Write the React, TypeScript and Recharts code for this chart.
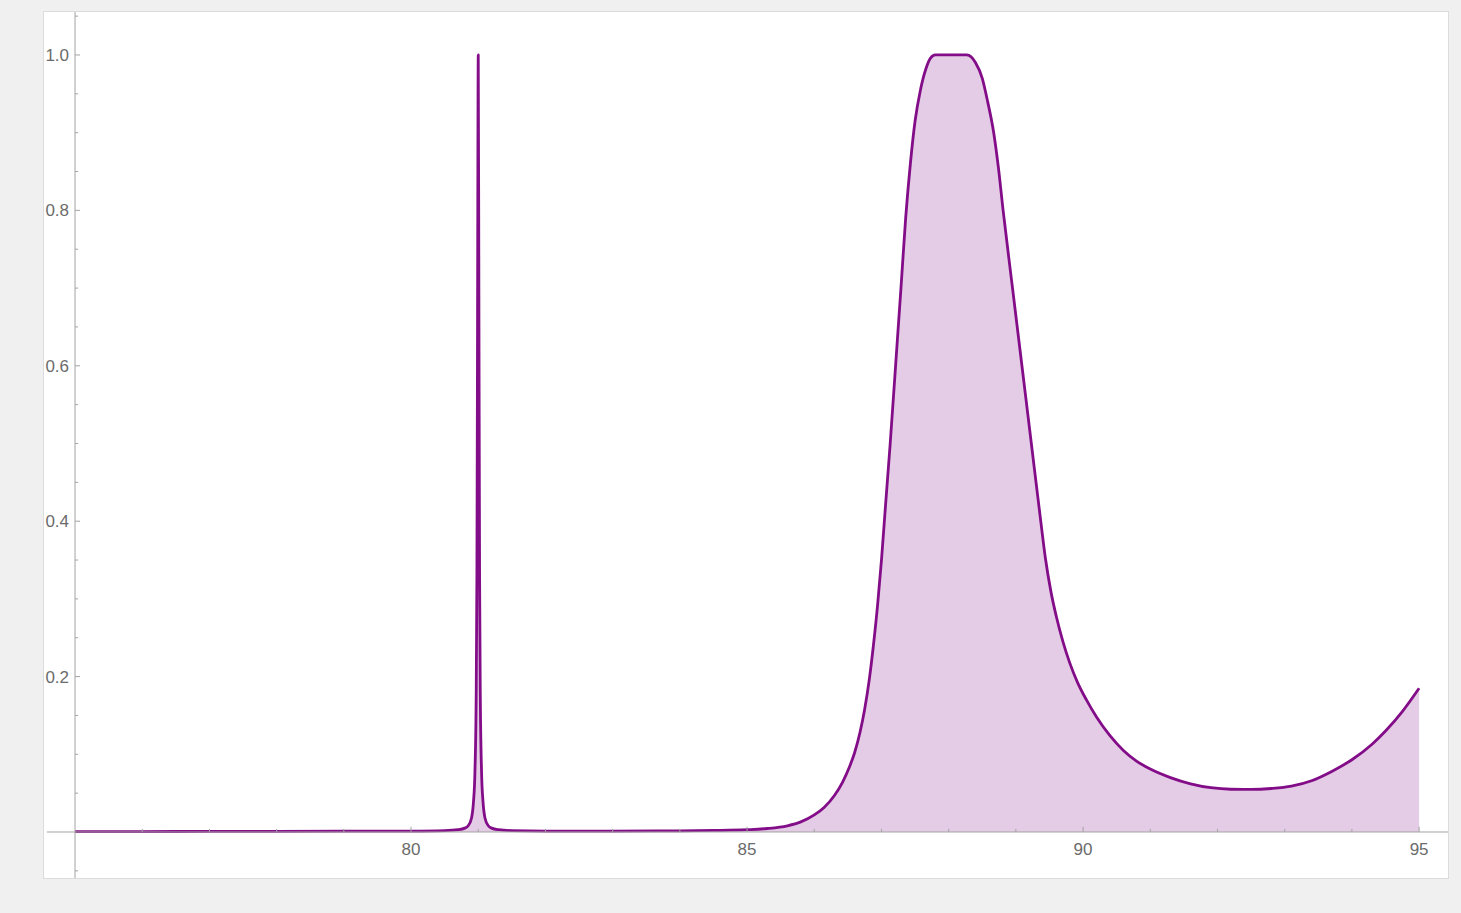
import React from 'react';
import { AreaChart, Area, XAxis, YAxis, ReferenceLine, ReferenceDot } from 'recharts';

const xs = [
  75.0, 76.0, 77.0, 78.0, 79.0, 80.0, 80.5, 80.7, 80.8, 80.85, 80.9, 80.93, 80.95, 80.97, 80.98, 80.99,
  81.0, 81.01, 81.02, 81.03, 81.05, 81.07, 81.1, 81.15, 81.2, 81.3, 81.5, 82.0, 83.0, 84.0, 84.5,
  85.0, 85.3, 85.6, 85.8, 86.0, 86.15, 86.3, 86.42, 86.52, 86.6, 86.68, 86.75, 86.82, 86.88, 86.94,
  87.0, 87.06, 87.13, 87.21, 87.29, 87.36, 87.43, 87.5, 87.58, 87.66, 87.73, 87.8, 88.0, 88.27,
  88.4, 88.5, 88.58, 88.67, 88.74, 88.81, 88.95, 89.09, 89.23, 89.37, 89.44, 89.52, 89.6, 89.7,
  89.8, 89.92, 90.05, 90.2, 90.4, 90.6, 90.8, 91.0, 91.3, 91.6, 91.9, 92.2, 92.5, 92.8, 93.1,
  93.4, 93.7, 94.0, 94.3, 94.5, 94.75, 95.0,
];
const ys = [
  0.0005, 0.0006, 0.0007, 0.0008, 0.001, 0.0012, 0.0018, 0.003, 0.005, 0.008, 0.018, 0.04, 0.075, 0.18, 0.33, 0.67,
  1.0, 0.67, 0.33, 0.18, 0.075, 0.04, 0.018, 0.008, 0.005, 0.003, 0.0018, 0.0012, 0.0012, 0.0015, 0.002,
  0.003, 0.0045, 0.008, 0.013, 0.022, 0.032, 0.047, 0.064, 0.083, 0.102, 0.128, 0.158, 0.197, 0.24, 0.29,
  0.35, 0.42, 0.5, 0.6, 0.7, 0.79, 0.86, 0.915, 0.955, 0.982, 0.996, 1.0, 1.0, 1.0,
  0.99, 0.97, 0.94, 0.9, 0.855, 0.8, 0.7, 0.6, 0.5, 0.4, 0.352, 0.31, 0.278, 0.245,
  0.218, 0.192, 0.17, 0.148, 0.124, 0.105, 0.091, 0.081, 0.07, 0.062, 0.057, 0.055, 0.0548, 0.056, 0.059,
  0.066, 0.078, 0.093, 0.113, 0.13, 0.155, 0.185,
];

const xMajorTicks = [80, 85, 90, 95];
const xMinorTicks = [76, 77, 78, 79, 81, 82, 83, 84, 86, 87, 88, 89, 91, 92, 93, 94];
const yMajorTicks = [0.2, 0.4, 0.6, 0.8, 1.0];
const yMinorTicks = [-0.05, 0.05, 0.1, 0.15, 0.25, 0.3, 0.35, 0.45, 0.5, 0.55, 0.65, 0.7, 0.75, 0.85, 0.9, 0.95, 1.05];

const X_DOMAIN: [number, number] = [74.583, 95.43];
const Y_DOMAIN: [number, number] = [-0.0592, 1.0553];
const ORIGIN_X = 75;

const data = xs.map((x, i) => ({ x, y: ys[i] }));

const AXIS = '#a3a3a3';
const LABEL = '#6b6b6b';
const FONT = '"Liberation Sans", Arial, sans-serif';

const App = () => {
  return (
    <div style={{ position: 'absolute', left: 0, top: 0, width: 1461, height: 913, background: '#f0f0f0', overflow: 'hidden' }}>
      <div
        style={{
          position: 'absolute',
          left: 43,
          top: 11,
          width: 1404,
          height: 866,
          background: '#fff',
          border: '1px solid #dcdcdc',
        }}
      />
      <div style={{ position: 'absolute', left: 0, top: 0 }}>
        <AreaChart width={1461} height={913} data={data} margin={{ top: 12, right: 13, bottom: 35, left: 47 }}>
          <XAxis dataKey="x" type="number" domain={X_DOMAIN} allowDataOverflow hide />
          <YAxis type="number" domain={Y_DOMAIN} allowDataOverflow hide />

          <Area
            type="monotone"
            dataKey="y"
            baseValue={0}
            stroke="#830d88"
            strokeWidth={2.8}
            strokeLinejoin="round"
            fill="#e5cce6"
            fillOpacity={1}
            dot={false}
            activeDot={false}
            isAnimationActive={false}
          />

          {/* axes through the origin */}
          <ReferenceLine segment={[{ x: X_DOMAIN[0], y: 0 }, { x: X_DOMAIN[1], y: 0 }]} stroke={AXIS} strokeWidth={1} ifOverflow="visible" />
          <ReferenceLine segment={[{ x: ORIGIN_X, y: Y_DOMAIN[0] }, { x: ORIGIN_X, y: Y_DOMAIN[1] }]} stroke={AXIS} strokeWidth={1} ifOverflow="visible" />

          {xMajorTicks.map((t) => (
            <ReferenceLine key={'xM' + t} segment={[{ x: t, y: 0 }, { x: t, y: 0.0068 }]} stroke={AXIS} ifOverflow="visible" />
          ))}
          {xMinorTicks.map((t) => (
            <ReferenceLine key={'xm' + t} segment={[{ x: t, y: 0 }, { x: t, y: 0.004 }]} stroke={AXIS} ifOverflow="visible" />
          ))}
          {yMajorTicks.map((t) => (
            <ReferenceLine key={'yM' + t} segment={[{ x: ORIGIN_X, y: t }, { x: ORIGIN_X + 0.075, y: t }]} stroke={AXIS} ifOverflow="visible" />
          ))}
          {yMinorTicks.map((t) => (
            <ReferenceLine key={'ym' + t} segment={[{ x: ORIGIN_X, y: t }, { x: ORIGIN_X + 0.045, y: t }]} stroke={AXIS} ifOverflow="visible" />
          ))}

          {xMajorTicks.map((t) => (
            <ReferenceDot
              key={'xl' + t}
              x={t}
              y={0}
              r={0}
              fill="none"
              stroke="none"
              ifOverflow="visible"
              label={{ value: String(t), position: 'bottom', offset: 11, fill: LABEL, fontSize: 17, fontFamily: FONT }}
            />
          ))}
          {yMajorTicks.map((t) => (
            <ReferenceDot
              key={'yl' + t}
              x={ORIGIN_X}
              y={t}
              r={0}
              fill="none"
              stroke="none"
              ifOverflow="visible"
              label={{ value: t.toFixed(1), position: 'left', offset: 6, fill: LABEL, fontSize: 17, fontFamily: FONT }}
            />
          ))}
        </AreaChart>
      </div>
    </div>
  );
};

export default App;
